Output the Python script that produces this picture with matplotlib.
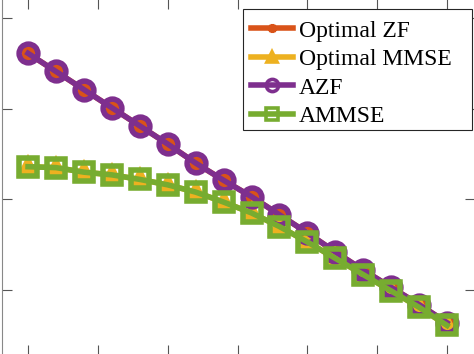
import numpy as np
import matplotlib.pyplot as plt
from matplotlib.patches import Rectangle

# SNR points (x axis) and curves (arbitrary dB units)
snr = np.arange(0, 31, 2)
azf = [6.1, 4.1, 2.1, 0.1, -1.9, -3.9, -6.0, -7.9, -9.7, -11.7, -13.7, -15.8, -17.8, -19.7, -21.6, -23.6]
opt_zf = [6.1, 4.1, 2.1, 0.1, -1.9, -3.9, -6.0, -7.9, -9.7, -11.7, -13.7, -15.8, -17.8, -19.7, -21.6, -23.6]
ammse = [-6.4, -6.5, -7.0, -7.3, -7.8, -8.4, -9.2, -10.3, -11.5, -13.0, -14.7, -16.5, -18.3, -20.1, -21.9, -23.9]
opt_mmse = [-6.4, -6.5, -7.0, -7.3, -7.8, -8.4, -9.2, -10.3, -11.5, -13.0, -14.7, -16.5, -18.3, -20.1, -21.9, -23.9]

xticks = [0, 5, 10, 15, 20, 25, 30]
yticks = [-20, -10, 0, 10]

plt.rcParams['font.family'] = ['Liberation Serif', 'DejaVu Serif']

W, H = 474, 354
fig = plt.figure(figsize=(W / 100, H / 100), dpi=100)
ax = fig.add_axes([1.5 / W, -1 / H, 473.5 / W, 356 / H])

ax.plot(snr, opt_zf, color='#D95319', lw=4, marker=(6, 2, 0), ms=10, mew=4.5,
        label='Optimal ZF')
ax.plot(snr, opt_mmse, color='#EDB120', lw=4, marker='^', ms=10, mew=4,
        mfc='#EDB120', label='Optimal MMSE')
ax.plot(snr, azf, color='#7E2F8E', lw=4, marker='o', ms=13.5, mew=4,
        mfc='none', label='AZF')
ax.plot(snr, ammse, color='#77AC30', lw=4, marker='s', ms=13, mew=4,
        mfc='none', label='AMMSE')

ax.set_xlim(-1.9, 32.0)
ax.set_ylim(-27.16, 12.09)
ax.set_xticks(xticks)
ax.set_yticks(yticks)
ax.set_xticklabels([])
ax.set_yticklabels([])
ax.tick_params(direction='in', length=7, width=0.8, color='#555555',
               top=True, right=True)
for s in ax.spines.values():
    s.set_color('#888888')
    s.set_linewidth(0.8)

# legend box (MATLAB style, wider on the right)
box = Rectangle((243 / W, 1 - 130 / H), (472 - 243) / W, (130 - 9) / H,
                transform=fig.transFigure, facecolor='white',
                edgecolor='#262626', lw=0.8, clip_on=False, zorder=4)
ax.add_patch(box)

leg = ax.legend(loc='upper left', bbox_to_anchor=(251 / W, 1 - 20 / H),
                bbox_transform=fig.transFigure, borderaxespad=0,
                fontsize=17, handlelength=1.78, handletextpad=0.25,
                labelspacing=0.3, borderpad=0, frameon=False,
                markerscale=0.65)
leg.set_zorder(5)
for h in leg.legend_handles:
    h.set_markeredgewidth(2.6)

fig.savefig('out.png', dpi=100)
